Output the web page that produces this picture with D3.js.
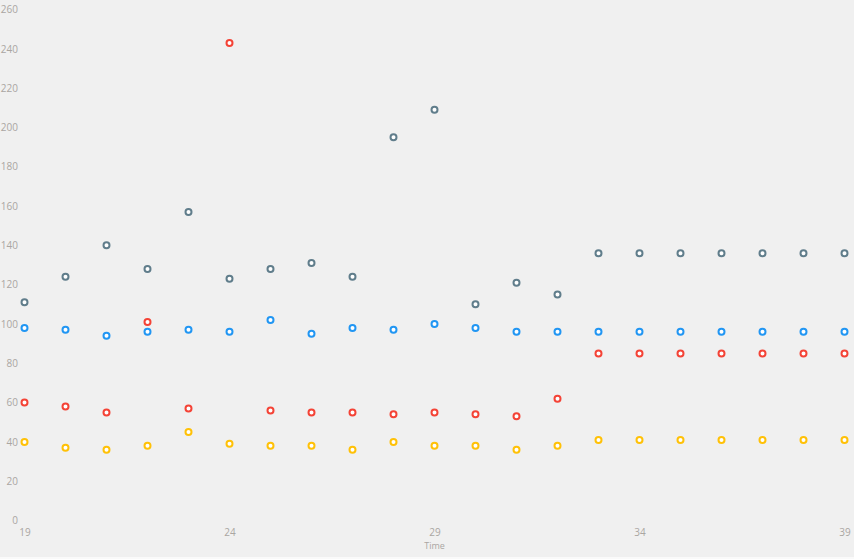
<!DOCTYPE html>
<html>
<head>
<meta charset="utf-8">
<script src="https://cdn.jsdelivr.net/npm/d3@7"></script>
<style>
  html, body { margin: 0; padding: 0; background: #f0f0f0; }
  svg { display: block; }
</style>
</head>
<body>
<svg id="chart" width="854" height="559"></svg>
<script>
const times = [19,20,21,22,23,24,25,26,27,28,29,30,31,32,33,34,35,36,37,38,39];
const xTickValues = [19,24,29,34,39];
const yTickValues = [0,20,40,60,80,100,120,140,160,180,200,220,240,260];
const seriesNames = ["gray","blue","red","yellow"];
const seriesColors = ["#607d8b","#2196f3","#f44336","#ffc107"];
const grayValues   = [111,124,140,128,157,123,128,131,124,195,209,110,121,115,136,136,136,136,136,136,136];
const blueValues   = [98,97,94,96,97,96,102,95,98,97,100,98,96,96,96,96,96,96,96,96,96];
const redValues    = [60,58,55,101,57,243,56,55,55,54,55,54,53,62,85,85,85,85,85,85,85];
const yellowValues = [40,37,36,38,45,39,38,38,36,40,38,38,36,38,41,41,41,41,41,41,41];
const allValues = [grayValues, blueValues, redValues, yellowValues];

(function () {
const svg = d3.select("#chart");
const W = 854, H = 559;
const mLeft = 24.5, mRight = 844.5, mTop = 9.5, mBottom = 520.5;

const x = d3.scaleLinear().domain([19,39]).range([mLeft,mRight]);
const y = d3.scaleLinear().domain([0,260]).range([mBottom,mTop]);

svg.append("rect").attr("width",W).attr("height",H).attr("fill","#f0f0f0");
svg.append("line").attr("x1",0).attr("x2",W).attr("y1",H-1).attr("y2",H-1)
  .attr("stroke","#fafafa").attr("stroke-width",2);

const labelColor = "#aaa6a2";
const font = "'Open Sans', 'DejaVu Sans', sans-serif";

const yAxis = d3.axisLeft(y).tickValues(yTickValues).tickSize(0).tickPadding(0);
const yg = svg.append("g").attr("transform","translate(18,0)").call(yAxis);
yg.select(".domain").remove();
yg.selectAll("text").attr("fill",labelColor).style("font-family",font).style("font-size","10px");

const xAxis = d3.axisBottom(x).tickValues(xTickValues).tickSize(0).tickPadding(0);
const xg = svg.append("g").attr("transform","translate(0,529)").call(xAxis);
xg.select(".domain").remove();
xg.selectAll("text").attr("fill",labelColor).style("font-family",font).style("font-size","10px");

svg.append("text").attr("x",x(29)).attr("y",548.5).attr("text-anchor","middle")
  .attr("fill",labelColor).style("font-family",font).style("font-size","9px").text("Time");

allValues.forEach((vals, i) => {
  svg.append("g").selectAll("circle").data(vals).join("circle")
    .attr("cx",(d,j)=>x(times[j]))
    .attr("cy",d=>y(d))
    .attr("r",3)
    .attr("fill","#ffffff")
    .attr("stroke",seriesColors[i])
    .attr("stroke-width",2);
});
})();
</script>
</body>
</html>
